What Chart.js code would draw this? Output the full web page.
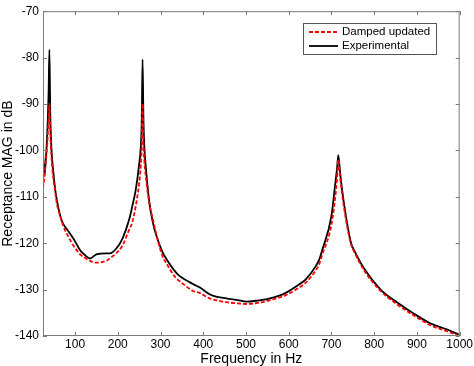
<!DOCTYPE html>
<html>
<head>
<meta charset="utf-8">
<script src="https://cdn.jsdelivr.net/npm/chart.js@4"></script>
<style>
  html, body { margin: 0; padding: 0; background: #fff; }
  #wrap { width: 474px; height: 366px; }
</style>
</head>
<body>
<div id="wrap"><canvas id="myChart" width="474" height="366"></canvas></div>
<script>
// frequency points (Hz)
const freq = [25, 28, 30, 33, 36, 38, 40, 42, 45, 49, 53, 57, 65, 72, 81, 96, 112, 119, 135, 150,
  173, 181, 196, 211, 227, 234, 242, 250, 254, 256, 258, 260, 262, 266, 274, 282, 290, 305, 313, 336,
  345, 376, 391, 415, 422, 454, 484, 500, 531, 547, 578, 593, 624, 640, 663, 671, 678, 700, 709, 713,
  716, 719, 723, 735, 746, 753, 776, 815, 854, 893, 932, 971, 1000];

const experimental = [-100, -105.5, -104, -100, -94, -88, -78.3, -92, -100, -104.5, -108, -110.5, -114, -115.8, -117, -119, -121.5, -122.2, -123.3, -122.4,
  -122.2, -122.2, -121.2, -119, -114.8, -112, -108.5, -103, -99, -94, -80.4, -93, -99, -104, -111.3, -115.5, -118.3, -122, -123.3, -126.3,
  -127.1, -128.8, -129.5, -131, -131.3, -131.9, -132.3, -132.6, -132.3, -132.1, -131.3, -130.7, -128.9, -127.8, -125, -123.6, -121.6, -114.1, -107.1, -104,
  -101, -103.5, -107.1, -114.8, -120, -121.5, -125.4, -130, -132.8, -135.2, -137.3, -138.6, -139.8];

const dampedUpdated = [-108.2, -106, -104, -101, -97, -93.5, -90, -96, -101.5, -106, -108.5, -111.3, -114, -116.2, -118, -120.5, -122.4, -122.9, -123.8, -124.2,
  -123.8, -123.3, -122.2, -120.5, -117, -115.5, -112, -107.1, -103, -99, -90, -98, -102, -106, -111.5, -114.8, -118, -122.9, -124.2, -127.5,
  -128.2, -130.3, -130.7, -131.9, -132.1, -132.7, -133, -133.1, -132.8, -132.5, -131.7, -131.2, -129.6, -128.5, -125.9, -124.6, -122.6, -116, -110, -106,
  -102, -104.5, -108, -115.5, -120.3, -121.8, -125.8, -130.3, -133.2, -135.6, -137.7, -139, -140];

const xTicks = [100, 200, 300, 400, 500, 600, 700, 800, 900, 1000];
const yTicks = [-140, -130, -120, -110, -100, -90, -80, -70];

const axisColor = '#7a7a7a';
const fontFamily = '"Liberation Sans", Arial, sans-serif';

// MATLAB style box with inward ticks
const boxPlugin = {
  id: 'box',
  afterDatasetsDraw(chart) {
    const { ctx, chartArea: a, scales } = chart;
    ctx.save();
    ctx.strokeStyle = axisColor;
    ctx.lineWidth = 1;
    ctx.strokeRect(a.left + 0.5, a.top + 0.5, a.right - a.left - 1, a.bottom - a.top - 1);
    ctx.beginPath();
    xTicks.forEach(v => {
      const px = Math.round(scales.x.getPixelForValue(v)) + 0.5;
      ctx.moveTo(px, a.bottom); ctx.lineTo(px, a.bottom - 4);
      ctx.moveTo(px, a.top); ctx.lineTo(px, a.top + 4);
    });
    yTicks.forEach(v => {
      const py = Math.round(scales.y.getPixelForValue(v)) + 0.5;
      ctx.moveTo(a.left, py); ctx.lineTo(a.left + 4, py);
      ctx.moveTo(a.right, py); ctx.lineTo(a.right - 4, py);
    });
    ctx.stroke();
    ctx.restore();
  }
};

// legend box inside the plot, top right
const legendPlugin = {
  id: 'insideLegend',
  afterDraw(chart) {
    const { ctx } = chart;
    const x0 = 303, y0 = 23, w = 133, h = 31;
    ctx.save();
    ctx.fillStyle = '#fff';
    ctx.fillRect(x0, y0, w, h);
    ctx.strokeStyle = '#555';
    ctx.lineWidth = 1;
    ctx.strokeRect(x0 + 0.5, y0 + 0.5, w, h);
    chart.data.datasets.forEach((ds, i) => {
      const y = y0 + 9 + i * 14;
      ctx.beginPath();
      ctx.strokeStyle = ds.borderColor;
      ctx.lineWidth = ds.borderWidth;
      ctx.setLineDash(ds.borderDash || []);
      ctx.moveTo(309, y); ctx.lineTo(338, y);
      ctx.stroke();
      ctx.setLineDash([]);
      ctx.fillStyle = '#000';
      ctx.font = '11.5px ' + fontFamily;
      ctx.textBaseline = 'middle';
      ctx.fillText(ds.label, 342, y);
    });
    ctx.restore();
  }
};

const ctx = document.getElementById('myChart');

new Chart(ctx, {
  type: 'line',
  data: {
    datasets: [{
      label: 'Damped updated',
      data: freq.map((f, i) => ({ x: f, y: dampedUpdated[i] })),
      borderColor: '#ff0000',
      borderWidth: 1.8,
      borderDash: [4, 2],
      pointRadius: 0,
      cubicInterpolationMode: 'monotone'
    }, {
      label: 'Experimental',
      data: freq.map((f, i) => ({ x: f, y: experimental[i] })),
      borderColor: '#000000',
      borderWidth: 1.8,
      pointRadius: 0,
      cubicInterpolationMode: 'monotone'
    }]
  },
  options: {
    responsive: false,
    animation: false,
    layout: { padding: { top: 4, right: 12, left: 0, bottom: 0 } },
    plugins: {
      legend: { display: false },
      tooltip: { enabled: false }
    },
    scales: {
      x: {
        type: 'linear',
        min: 25,
        max: 1000,
        afterBuildTicks: s => { s.ticks = xTicks.map(v => ({ value: v })); },
        afterFit: s => { s.height = 30; },
        grid: { display: false, drawTicks: false },
        border: { display: false },
        ticks: { color: '#000', font: { family: fontFamily, size: 12 }, padding: 1, maxRotation: 0, callback: v => String(v) },
        title: { display: true, text: 'Frequency in Hz', color: '#000', font: { family: fontFamily, size: 14, lineHeight: 1 }, padding: { top: 0, bottom: 0 } }
      },
      y: {
        min: -140,
        max: -70,
        afterBuildTicks: s => { s.ticks = yTicks.map(v => ({ value: v })); },
        afterFit: s => { s.width = 43; },
        grid: { display: false, drawTicks: false },
        border: { display: false },
        ticks: { color: '#000', font: { family: fontFamily, size: 12 }, padding: 4, callback: v => String(v) },
        title: { display: true, text: 'Receptance MAG in dB', color: '#000', font: { family: fontFamily, size: 14 }, padding: { top: 0, bottom: 0 } }
      }
    }
  },
  plugins: [boxPlugin, legendPlugin]
});
</script>
</body>
</html>
